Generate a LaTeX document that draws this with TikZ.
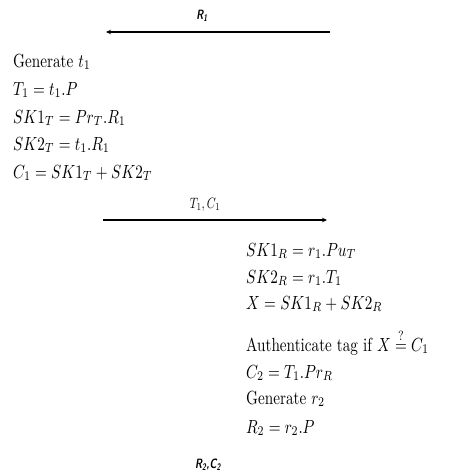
\documentclass[tikz,border=0pt]{standalone}
\usepackage{graphicx}
\usetikzlibrary{arrows.meta}
\newcommand{\nrw}[1]{\scalebox{1.52}[1.9]{#1}}
\newcommand{\lbl}[1]{\scalebox{1.0}[1.35]{#1}}
\tikzset{
  stepline/.style={anchor=base west,inner sep=0pt},
  msg/.style={line width=1.6pt,-{Stealth[length=5pt,width=4.5pt]}},
  msglabel/.style={inner sep=0pt,font=\sffamily\bfseries\itshape},
  mathlabel/.style={inner sep=0pt}
}
\begin{document}
\begin{tikzpicture}[x=1pt,y=-1pt]
  \useasboundingbox (0,0) rectangle (474,474);
  % messages between reader and tag
  \coordinate (tagA) at (330,32);
  \coordinate (rdrA) at (106,32);
  \coordinate (tagB) at (103,220);
  \coordinate (rdrB) at (327,220);
  \draw[msg] (tagA) -- (rdrA);
  \node[msglabel] (lblA) at (202,16) {\lbl{R\textsubscript{1}}};
  \draw[msg] (tagB) -- (rdrB);
  \node[mathlabel] (lblB) at (205,205) {\scalebox{1.15}[1.5]{$T_1,C_1$}};
  \node[msglabel] (lblC) at (208,465) {\lbl{R\textsubscript{2},C\textsubscript{2}}};

  % tag side
  \node[stepline] (tgen) at (13,67) {\nrw{Generate $t_1$}};
  \node[stepline] (tT) at (13,95) {\nrw{$T_1 = t_1.P$}};
  \node[stepline] (tSKa) at (13,123) {\nrw{$SK1_T = Pr_T.R_1$}};
  \node[stepline] (tSKb) at (13,150) {\nrw{$SK2_T = t_1.R_1$}};
  \node[stepline] (tC) at (13,178) {\nrw{$C_1 = SK1_T + SK2_T$}};

  % reader side
  \node[stepline] (rSKa) at (246,256) {\nrw{$SK1_R = r_1.Pu_T$}};
  \node[stepline] (rSKb) at (246,283) {\nrw{$SK2_R = r_1.T_1$}};
  \node[stepline] (rX) at (246,309) {\nrw{$X = SK1_R + SK2_R$}};
  \node[stepline] (rauth) at (246,351) {\nrw{Authenticate tag if $X \stackrel{?}{=} C_1$}};
  \node[stepline] (rC) at (246,378) {\nrw{$C_2 = T_1.Pr_R$}};
  \node[stepline] (rgen) at (246,404) {\nrw{Generate $r_2$}};
  \node[stepline] (rR) at (246,433) {\nrw{$R_2 = r_2.P$}};
\end{tikzpicture}
\end{document}
